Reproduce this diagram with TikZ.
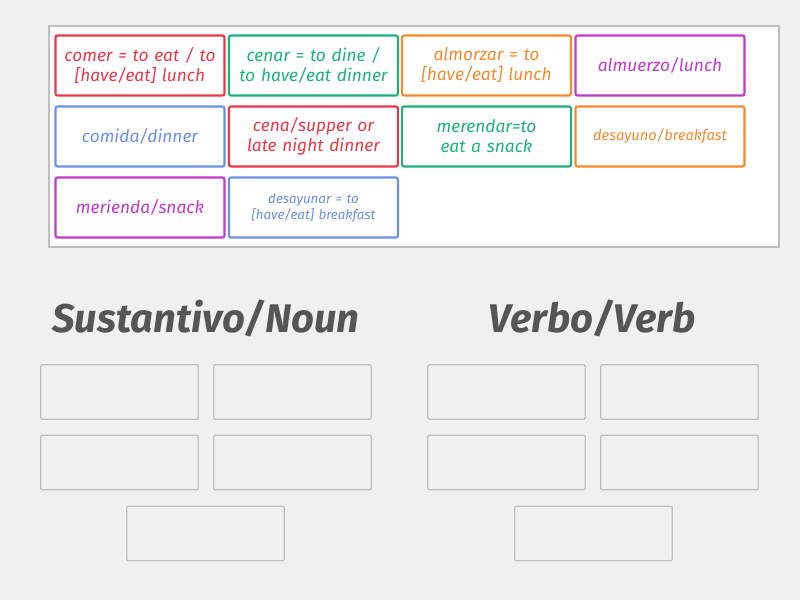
\documentclass[tikz,border=0pt]{standalone}
\usepackage{fontspec}
\setmainfont{Fira Sans}
\definecolor{bg}{HTML}{F0F0F0}
\definecolor{cr}{HTML}{E8394A}
\definecolor{cg}{HTML}{1DB27A}
\definecolor{co}{HTML}{F58A2C}
\definecolor{cp}{HTML}{C23ACB}
\definecolor{cb}{HTML}{6C8FE6}
\definecolor{tg}{HTML}{555555}
\tikzset{
 card/.style={draw=#1,text=#1,line width=1.6pt,rounded corners=1.5pt,fill=white,minimum width=122pt,minimum height=45pt,text width=120pt,align=center,font=\itshape\fontsize{13}{15}\selectfont},
 slot/.style={draw=black!25,fill=bg,line width=0.9pt,rounded corners=1pt,minimum width=118pt,minimum height=41pt},
 ttl/.style={text=tg,font=\bfseries\itshape\fontsize{30}{32}\selectfont}
}
\begin{document}
\begin{tikzpicture}[x=0.75pt,y=-0.75pt]
\fill[bg] (0,0) rectangle (800,600);
\useasboundingbox (0,0) rectangle (800,600);
\draw[black!25,fill=white,line width=0.8pt] (49,26) rectangle (779,247);
\node[card=cr] (a1) at (140,65.5) {comer = to eat / to [have/eat] lunch};
\node[card=cg] (a2) at (313.5,65.5) {cenar = to dine / to have/eat dinner};
\node[card=co] (a3) at (486.5,65.5) {almorzar = to [have/eat] lunch};
\node[card=cp] (a4) at (660,65.5) {almuerzo/lunch};
\node[card=cb] (b1) at (140,136.5) {comida/dinner};
\node[card=cr] (b2) at (313.5,136.5) {cena/supper or late night dinner};
\node[card=cg] (b3) at (486.5,136.5) {merendar=to eat a snack};
\node[card=co,font=\itshape\fontsize{11}{13}\selectfont] (b4) at (660,136.5) {desayuno/breakfast};
\node[card=cp] (c1) at (140,207.5) {merienda/snack};
\node[card=cb,font=\itshape\fontsize{10}{12}\selectfont] (c2) at (313.5,207.5) {desayunar = to [have/eat] breakfast};
\node[ttl] (t1) at (206,318) {Sustantivo/Noun};
\node[ttl] (t2) at (592,318) {Verbo/Verb};
\node[slot] (s1) at (119.5,392) {};
\node[slot] (s2) at (292.5,392) {};
\node[slot] (s3) at (119.5,462.5) {};
\node[slot] (s4) at (292.5,462.5) {};
\node[slot] (s5) at (205.5,533.5) {};
\node[slot] (r1) at (506.5,392) {};
\node[slot] (r2) at (679.5,392) {};
\node[slot] (r3) at (506.5,462.5) {};
\node[slot] (r4) at (679.5,462.5) {};
\node[slot] (r5) at (593.5,533.5) {};
\end{tikzpicture}
\end{document}
